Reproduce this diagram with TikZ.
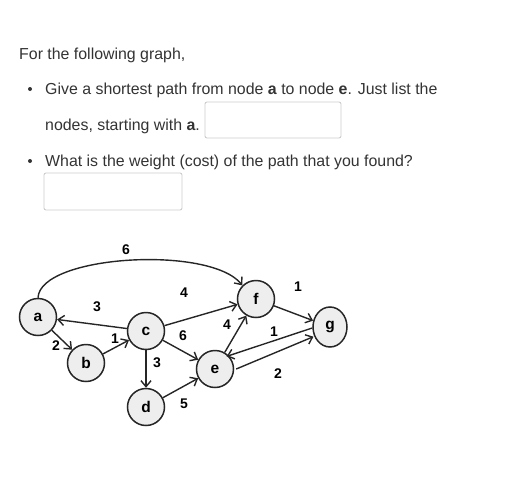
\documentclass[tikz,border=0pt]{standalone}
\usepackage{fontspec}
\setmainfont{Liberation Sans}
\usetikzlibrary{arrows.meta,shapes.geometric}
\definecolor{txt}{HTML}{333333}
\definecolor{boxc}{HTML}{CCCCCC}
\definecolor{nfill}{HTML}{EEEEEE}
\begin{document}
\begin{tikzpicture}[x=1pt,y=-1pt,
  line/.style={anchor=base west,inner sep=0pt,text=txt,font=\fontsize{15.9}{18}\selectfont},
  ansbox/.style={draw=boxc,rounded corners=2pt,line width=0.9pt},
  vert/.style={circle,draw=black!85,fill=nfill,line width=1.5pt,minimum size=37pt,inner sep=0pt,font=\bfseries\fontsize{15.5}{17}\selectfont},
  edge/.style={line width=1.4pt,draw=black!85,-{Straight Barb[length=6pt,width=10pt]}},
  wt/.style={font=\bfseries\fontsize{14}{16}\selectfont,inner sep=0pt}]
\useasboundingbox (0,0) rectangle (507,480);
% text
\node[line] (t0) at (19,59) {For the following graph,};
\fill[txt] (30,89) circle (2);
\node[line] (t1) at (45,94) {Give a shortest path from node \textbf{a} to node \textbf{e}. Just list the};
\node[line] (t2) at (45,130) {nodes, starting with \textbf{a}.};
\draw[ansbox] (205,102) rectangle (341,138);
\fill[txt] (30,161) circle (2);
\node[line] (t3) at (45,166) {What is the weight (cost) of the path that you found?};
\draw[ansbox] (44,173) rectangle (182,210);
% graph
\node[vert] (a) at (38,317) {a};
\node[vert] (b) at (86,363) {b};
\node[vert] (c) at (146,331) {c};
\node[vert] (d) at (146,407) {d};
\node[vert] (e) at (215,369) {e};
\node[vert] (f) at (256,299) {f};
\node[vert,ellipse,minimum width=34pt,minimum height=40pt] (g) at (330,327) {g};
\draw[edge] (a.north) .. controls (40,255) and (210,245) .. (f.north west);
\draw[edge] (c) -- (a);
\draw[edge] (a) -- (b);
\draw[edge] (b) -- (c);
\draw[edge] (c) -- (f);
\draw[edge] (c) -- (e);
\draw[edge] (c) -- (d);
\draw[edge] (d) -- (e);
\draw[edge] (e) -- (f);
\draw[edge] (f) -- (g);
\draw[edge] ([yshift=-1pt]g.west) -- ([shift={(-2pt,-1pt)}]e.north east);
\draw[edge] ([xshift=2pt]e.east) -- ([shift={(-4pt,5pt)}]g.south west);
\node[wt] (w1) at (126,250) {6};
\node[wt] (w2) at (97,307) {3};
\node[wt] (w3) at (56,346) {2};
\node[wt] (w4) at (115,339) {1};
\node[wt] (w5) at (184,293) {4};
\node[wt] (w6) at (183,336) {6};
\node[wt] (w7) at (157,363) {3};
\node[wt] (w8) at (184,404) {5};
\node[wt] (w9) at (227,325) {4};
\node[wt] (w10) at (298,287) {1};
\node[wt] (w11) at (274,332) {1};
\node[wt] (w12) at (278,374) {2};
\end{tikzpicture}
\end{document}
